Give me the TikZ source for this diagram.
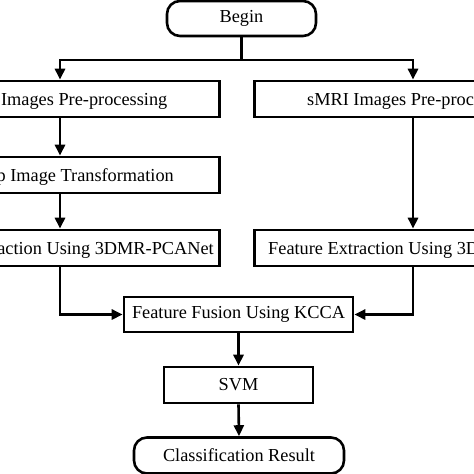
\documentclass[tikz,border=0pt]{standalone}
\usepackage{fontspec}
\setmainfont{Liberation Serif}
\usetikzlibrary{arrows.meta}
\begin{document}
\begin{tikzpicture}[x=1pt,y=-1pt,
  every node/.style={font=\fontsize{18.3}{20}\selectfont},
  boxbase/.style={draw, line width=2.6pt, minimum height=36pt, inner sep=0pt},
  termbox/.style={boxbase, rounded corners=13pt},
  plainbox/.style={boxbase},
  sidebox/.style={boxbase, minimum width=330pt},
  lbl/.style={inner sep=0pt},
  conn/.style={line width=2.6pt},
  arr/.style={conn, -{Triangle[length=11pt,width=10pt]}}
]
\useasboundingbox (0,0) rectangle (474,474);
\clip (0,0) rectangle (474,474);
\fill[white] (0,0) rectangle (474,474);

\node[termbox, minimum width=149pt, minimum height=35pt] (begin) at (241.5,18.5) {Begin};

\node[sidebox, anchor=east] (l1) at (220.5,99) {};
\node[sidebox, anchor=east] (l2) at (220.5,175) {};
\node[sidebox, anchor=east] (l3) at (220.5,248) {};
\node[sidebox, anchor=west] (r1) at (253,99) {};
\node[sidebox, anchor=west] (r3) at (253,248) {};

\node[lbl, anchor=base east] (t1) at (167.5,105.5) {Images Pre-processing};
\node[lbl, anchor=base east] (t2) at (174,181.5) {p Image Transformation};
\node[lbl, anchor=base east] (t3) at (214,254.5) {action Using 3DMR-PCANet};
\node[lbl, anchor=base west] (t4) at (307,105.5) {sMRI Images Pre-processing};
\node[lbl, anchor=base west] (t5) at (268,254.5) {Feature Extraction Using 3DMR-PCANet};

\node[plainbox, minimum width=229pt, minimum height=35pt] (fuse) at (238.5,314.5) {Feature Fusion Using KCCA};
\node[plainbox, minimum width=149pt] (svm) at (238.5,385) {SVM};
\node[termbox, minimum width=210pt, minimum height=36pt] (res) at (239,455.5) {Classification Result};

\coordinate (j) at (241.5,60);
\coordinate (lx) at (60,0);
\coordinate (rx) at (413,0);

\draw[conn] (begin.south) -- (j);
\draw[arr] (j) -| (lx |- l1.north);
\draw[arr] (j) -| (rx |- r1.north);
\draw[arr] (lx |- l1.south) -- (lx |- l2.north);
\draw[arr] (lx |- l2.south) -- (lx |- l3.north);
\draw[arr] (rx |- r1.south) -- (rx |- r3.north);
\draw[arr] (lx |- l3.south) |- (fuse.west);
\draw[arr] (rx |- r3.south) |- (fuse.east);
\draw[arr] (fuse.south) -- (svm.north);
\draw[arr] (svm.south) -- (res.north);
\end{tikzpicture}
\end{document}
